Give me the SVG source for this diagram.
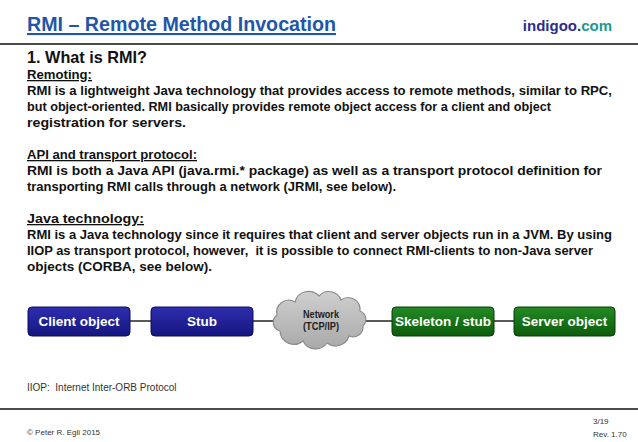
<svg xmlns="http://www.w3.org/2000/svg" width="638" height="442" viewBox="0 0 638 442">
<style>
text{font-family:"Liberation Sans",Arial,sans-serif}
.b{font-size:13px;font-weight:bold;fill:#111}
.h{font-size:13px;font-weight:bold;fill:#111;text-decoration:underline}
.bx{font-size:13.5px;font-weight:bold;fill:#fff}
.rule{stroke:#111;stroke-width:1.4}
.con{stroke:#222;stroke-width:1.5;fill:none}
</style>
<defs>
<linearGradient id="gb" x1="0" y1="0" x2="0" y2="1"><stop offset="0" stop-color="#2e2eb0"/><stop offset="1" stop-color="#15157e"/></linearGradient>
<linearGradient id="gg" x1="0" y1="0" x2="0" y2="1"><stop offset="0" stop-color="#248a24"/><stop offset="1" stop-color="#0c5c0c"/></linearGradient>
<linearGradient id="gc" x1="0" y1="0" x2="0" y2="1"><stop offset="0" stop-color="#cfcfcf"/><stop offset="1" stop-color="#a9a9a9"/></linearGradient>
</defs>
<rect width="638" height="442" fill="#fff"/>
<text x="27" y="31" font-size="21" font-weight="bold" fill="#1f56a8" text-decoration="underline" textLength="309" lengthAdjust="spacingAndGlyphs">RMI – Remote Method Invocation</text>
<text x="612" y="31" font-size="15" font-weight="bold" text-anchor="end"><tspan fill="#2b2b8c">indigoo.</tspan><tspan fill="#1a9a8c">com</tspan></text>
<line class="rule" x1="0" y1="44" x2="638" y2="44"/>
<text x="27" y="63" font-size="16.5" font-weight="bold" fill="#111" textLength="120" lengthAdjust="spacingAndGlyphs">1. What is RMI?</text>
<text class="h" x="27" y="79" textLength="65" lengthAdjust="spacingAndGlyphs">Remoting:</text>
<text class="b" x="27" y="95" textLength="585" lengthAdjust="spacingAndGlyphs">RMI is a lightweight Java technology that provides access to remote methods, similar to RPC,</text>
<text class="b" x="27" y="111" textLength="524" lengthAdjust="spacingAndGlyphs">but object-oriented. RMI basically provides remote object access for a client and object</text>
<text class="b" x="27" y="127" textLength="159" lengthAdjust="spacingAndGlyphs">registration for servers.</text>
<text class="h" x="27" y="159" textLength="170" lengthAdjust="spacingAndGlyphs">API and transport protocol:</text>
<text class="b" x="27" y="175" textLength="575" lengthAdjust="spacingAndGlyphs">RMI is both a Java API (java.rmi.* package) as well as a transport protocol definition for</text>
<text class="b" x="27" y="191" textLength="369" lengthAdjust="spacingAndGlyphs">transporting RMI calls through a network (JRMI, see below).</text>
<text class="h" x="27" y="223" textLength="117" lengthAdjust="spacingAndGlyphs">Java technology:</text>
<text class="b" x="27" y="239" textLength="585" lengthAdjust="spacingAndGlyphs">RMI is a Java technology since it requires that client and server objects run in a JVM. By using</text>
<text class="b" x="27" y="255" textLength="566" lengthAdjust="spacingAndGlyphs">IIOP as transport protocol, however, &#160;it is possible to connect RMI-clients to non-Java server</text>
<text class="b" x="27" y="271" textLength="185" lengthAdjust="spacingAndGlyphs">objects (CORBA, see below).</text>
<g id="connectors">
<line class="con" x1="130" y1="321" x2="151" y2="321"/>
<line class="con" x1="253" y1="321" x2="276" y2="321"/>
<line class="con" x1="364" y1="321" x2="392" y2="321"/>
<line class="con" x1="494" y1="321" x2="514" y2="321"/>
</g>
<g id="client">
<rect x="28" y="307" width="102" height="29" rx="4" fill="url(#gb)" stroke="#0c0c5c"/>
<text class="bx" x="79" y="326" text-anchor="middle">Client object</text>
</g>
<g id="stub">
<rect x="151" y="307" width="102" height="29" rx="4" fill="url(#gb)" stroke="#0c0c5c"/>
<text class="bx" x="202" y="326" text-anchor="middle">Stub</text>
</g>
<g id="network">
<path d="M280 331 a9 9 0 0 1 -3 -16 a12 12 0 0 1 18 -13 a14 14 0 0 1 24 -6 a13 13 0 0 1 22 4 a12 12 0 0 1 19 11 a9 9 0 0 1 3 15 a10 10 0 0 1 -14 10 a14 14 0 0 1 -22 7 a14 14 0 0 1 -24 -2 a14 14 0 0 1 -23 -10 z" fill="url(#gc)" stroke="#8c8c8c" stroke-width="1.2"/>
<text x="321" y="318" font-size="10" font-weight="bold" fill="#222" text-anchor="middle" textLength="36" lengthAdjust="spacingAndGlyphs">Network</text>
<text x="321" y="330" font-size="10" font-weight="bold" fill="#222" text-anchor="middle" textLength="36" lengthAdjust="spacingAndGlyphs">(TCP/IP)</text>
</g>
<g id="skeleton">
<rect x="392" y="307" width="102" height="29" rx="4" fill="url(#gg)" stroke="#063d06"/>
<text class="bx" x="443" y="326" text-anchor="middle">Skeleton / stub</text>
</g>
<g id="server">
<rect x="514" y="307" width="101" height="29" rx="4" fill="url(#gg)" stroke="#063d06"/>
<text class="bx" x="564.5" y="326" text-anchor="middle">Server object</text>
</g>
<text x="27" y="391" font-size="10" fill="#333">IIOP: &#160;Internet Inter-ORB Protocol</text>
<line class="rule" x1="0" y1="409" x2="638" y2="409"/>
<text x="27" y="435" font-size="8" fill="#333">© Peter R. Egli 2015</text>
<text x="593" y="424" font-size="8" fill="#333">3/19</text>
<text x="593" y="437" font-size="8" fill="#333">Rev. 1.70</text>
</svg>
